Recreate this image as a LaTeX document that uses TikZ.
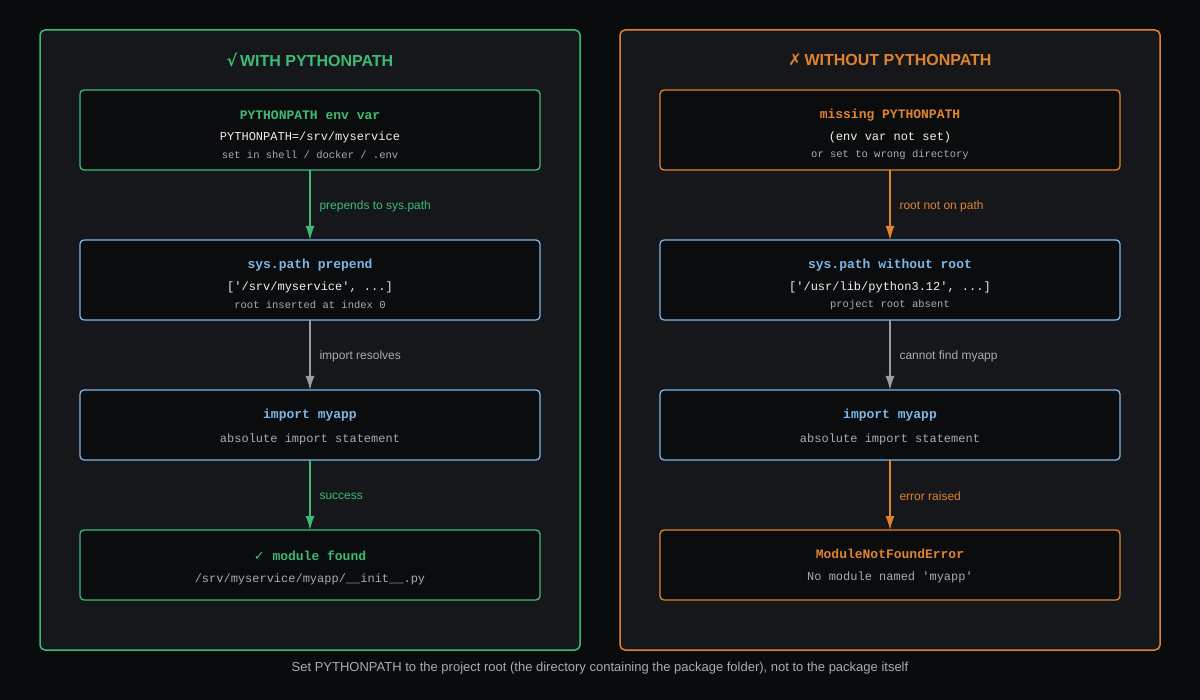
\documentclass[tikz,border=0pt]{standalone}
\usepackage{fontspec}
\setmainfont{Liberation Sans}
\setmonofont{Liberation Mono}
\newfontfamily\sym{DejaVu Sans}
\usetikzlibrary{arrows.meta}
\definecolor{bg}{HTML}{0A0B0C}
\definecolor{panel}{HTML}{15171A}
\definecolor{boxbg}{HTML}{0B0C0D}
\definecolor{grn}{HTML}{3DBB74}
\definecolor{org}{HTML}{E0832F}
\definecolor{blu}{HTML}{7DB7E8}
\definecolor{gry}{HTML}{9A9DA2}
\definecolor{wht}{HTML}{F0F0F0}
\definecolor{sub}{HTML}{A8ABB0}
\begin{document}
\begin{tikzpicture}[x=1pt,y=-1pt,
 panelst/.style={draw=#1,fill=panel,line width=1.5pt,rounded corners=5pt},
 box/.style={draw=#1,fill=boxbg,line width=1.3pt,rounded corners=4pt,minimum width=460pt,anchor=north},
 hd/.style={font=\ttfamily\bfseries\fontsize{13}{15}\selectfont,text=#1},
 ln/.style={font=\ttfamily\fontsize{12}{14}\selectfont,text=#1},
 sm/.style={font=\ttfamily\fontsize{10.5}{12}\selectfont,text=sub},
 arr/.style={draw=#1,line width=1.3pt,-{Latex[length=14pt,width=9pt]}},
 lab/.style={font=\fontsize{12}{14}\selectfont,text=#1,anchor=west}]
\fill[bg] (0,0) rectangle (1200,700);
\useasboundingbox (0,0) rectangle (1200,700);
\draw[panelst=grn] (40,30) rectangle (580,650);
\draw[panelst=org] (620,30) rectangle (1160,650);
\node[text=grn,font=\bfseries\fontsize{16}{18}\selectfont] (t1) at (310,60) {{\sym√}\,WITH PYTHONPATH};
\node[text=org,font=\bfseries\fontsize{16}{18}\selectfont] (t2) at (890,60) {{\sym✗}\,WITHOUT PYTHONPATH};
% left column
\draw[box=grn] (80,90) rectangle (540,170);
\node[hd=grn] (l1) at (310,115) {PYTHONPATH env var};
\node[ln=wht] at (310,137) {PYTHONPATH=/srv/myservice};
\node[sm] at (310,155) {set in shell / docker / .env};
\draw[box=blu] (80,240) rectangle (540,320);
\node[hd=blu] at (310,265) {sys.path prepend};
\node[ln=wht] at (310,287) {['/srv/myservice', ...]};
\node[sm] at (310,305) {root inserted at index 0};
\draw[box=blu] (80,390) rectangle (540,460);
\node[hd=blu] at (310,415) {import myapp};
\node[ln=sub] at (310,439) {absolute import statement};
\draw[box=grn] (80,530) rectangle (540,600);
\node[hd=grn] at (310,556) {{\sym\bfseries ✓} module found};
\node[ln=sub] at (310,579) {/srv/myservice/myapp/\_\_init\_\_.py};
\coordinate (a1) at (310,170); \coordinate (b1) at (310,240);
\coordinate (a2) at (310,320); \coordinate (b2) at (310,390);
\coordinate (a3) at (310,460); \coordinate (b3) at (310,530);
\draw[arr=grn] (a1) -- (b1); \node[lab=grn] at (316,206) {prepends to sys.path};
\draw[arr=gry] (a2) -- (b2); \node[lab=sub] at (316,356) {import resolves};
\draw[arr=grn] (a3) -- (b3); \node[lab=grn] at (316,496) {success};
% right column
\draw[box=org] (660,90) rectangle (1120,170);
\node[hd=org] at (890,115) {missing PYTHONPATH};
\node[ln=wht] at (890,137) {(env var not set)};
\node[sm] at (890,155) {or set to wrong directory};
\draw[box=blu] (660,240) rectangle (1120,320);
\node[hd=blu] at (890,265) {sys.path without root};
\node[ln=wht] at (890,287) {['/usr/lib/python3.12', ...]};
\node[sm] at (890,305) {project root absent};
\draw[box=blu] (660,390) rectangle (1120,460);
\node[hd=blu] at (890,415) {import myapp};
\node[ln=sub] at (890,439) {absolute import statement};
\draw[box=org] (660,530) rectangle (1120,600);
\node[hd=org] at (890,554) {ModuleNotFoundError};
\node[ln=sub] at (890,577) {No module named 'myapp'};
\coordinate (c1) at (890,170); \coordinate (d1) at (890,240);
\coordinate (c2) at (890,320); \coordinate (d2) at (890,390);
\coordinate (c3) at (890,460); \coordinate (d3) at (890,530);
\draw[arr=org] (c1) -- (d1); \node[lab=org] at (896,206) {root not on path};
\draw[arr=gry] (c2) -- (d2); \node[lab=sub] at (896,356) {cannot find myapp};
\draw[arr=org] (c3) -- (d3); \node[lab=org] at (896,496) {error raised};
\node[text=sub,font=\fontsize{13}{15}\selectfont] (ft) at (600,668) {Set PYTHONPATH to the project root (the directory containing the package folder), not to the package itself};
\end{tikzpicture}
\end{document}
